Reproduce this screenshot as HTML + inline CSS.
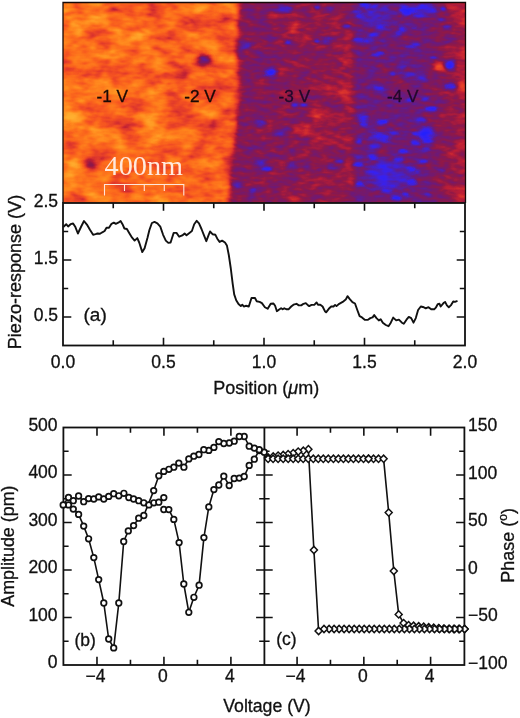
<!DOCTYPE html>
<html lang="en"><head><meta charset="utf-8"><title>Figure</title>
<style>html,body{margin:0;padding:0;background:#fff}svg{display:block}text{font-family:"Liberation Sans",Arial,Helvetica,sans-serif;fill:#111;stroke:#111;stroke-width:0.3px}.ser{font-family:"Liberation Serif","Times New Roman",serif}</style></head><body>
<svg width="520" height="718" viewBox="0 0 520 718">
<rect width="520" height="718" fill="#fff"/>
<defs>
<filter id="heat" x="0" y="0" width="100%" height="100%" filterUnits="objectBoundingBox" color-interpolation-filters="sRGB">
 <feTurbulence type="fractalNoise" baseFrequency="0.036 0.062" numOctaves="3" seed="7" result="t1"/>
 <feColorMatrix in="t1" type="matrix" values="1 0 0 0 0  1 0 0 0 0  1 0 0 0 0  0 0 0 0 1" result="n1"/>
 <feTurbulence type="fractalNoise" baseFrequency="0.09 0.22" numOctaves="2" seed="3" result="t2"/>
 <feColorMatrix in="t2" type="matrix" values="1 0 0 0 0  1 0 0 0 0  1 0 0 0 0  0 0 0 0 1" result="n2"/>
 <feComposite in="SourceGraphic" in2="n1" operator="arithmetic" k1="1.45" k2="0.275" k3="-0.45" k4="0.225" result="r1"/>
 <feComposite in="r1" in2="n2" operator="arithmetic" k1="-0.12" k2="1.06" k3="0.27" k4="-0.135" result="v"/>
 <feComponentTransfer in="v">
  <feFuncR type="table" tableValues="0.125 0.141 0.157 0.173 0.188 0.204 0.220 0.243 0.267 0.290 0.314 0.346 0.377 0.409 0.447 0.486 0.525 0.568 0.625 0.681 0.737 0.781 0.825 0.870 0.898 0.923 0.947 0.963 0.973 0.982 0.990 0.993 0.997 1.000 1.000 1.000 1.000 1.000 1.000 1.000 1.000"/>
  <feFuncG type="table" tableValues="0.125 0.127 0.128 0.129 0.131 0.132 0.133 0.131 0.129 0.127 0.125 0.118 0.111 0.103 0.100 0.098 0.096 0.096 0.103 0.110 0.118 0.150 0.181 0.213 0.243 0.273 0.302 0.333 0.365 0.397 0.427 0.457 0.486 0.516 0.545 0.575 0.604 0.625 0.647 0.669 0.690"/>
  <feFuncB type="table" tableValues="1.000 0.990 0.980 0.971 0.961 0.951 0.941 0.878 0.816 0.753 0.690 0.626 0.563 0.499 0.441 0.384 0.328 0.278 0.256 0.234 0.212 0.200 0.187 0.175 0.163 0.150 0.138 0.129 0.122 0.114 0.110 0.110 0.110 0.112 0.122 0.131 0.141 0.153 0.165 0.176 0.188"/>
  <feFuncA type="linear" slope="0" intercept="1"/>
 </feComponentTransfer>
</filter>
<filter id="bl6" x="-50%" y="-50%" width="200%" height="200%"><feGaussianBlur stdDeviation="5 3"/></filter>
<filter id="bl1" x="-50%" y="-50%" width="200%" height="200%"><feGaussianBlur stdDeviation="1.6 1.0"/></filter>
<filter id="ble" x="-10%" y="-10%" width="120%" height="120%"><feGaussianBlur stdDeviation="2.6 3"/></filter>
<filter id="bl4" x="-80%" y="-80%" width="260%" height="260%"><feGaussianBlur stdDeviation="3.2"/></filter>
<filter id="bl3" x="-50%" y="-50%" width="200%" height="200%"><feGaussianBlur stdDeviation="2.2"/></filter>
<linearGradient id="olv" x1="63" x2="245" gradientUnits="userSpaceOnUse"><stop offset="0.0000" stop-color="rgb(193,193,193)"/><stop offset="0.2033" stop-color="rgb(190,190,190)"/><stop offset="0.5330" stop-color="rgb(185,185,185)"/><stop offset="0.8462" stop-color="rgb(180,180,180)"/><stop offset="1.0000" stop-color="rgb(177,177,177)"/></linearGradient><linearGradient id="lv" x1="63" x2="465" gradientUnits="userSpaceOnUse"><stop offset="0.0000" stop-color="rgb(99,99,99)"/><stop offset="0.4801" stop-color="rgb(99,99,99)"/><stop offset="0.5398" stop-color="rgb(102,102,102)"/><stop offset="0.6144" stop-color="rgb(105,105,105)"/><stop offset="0.6891" stop-color="rgb(110,110,110)"/><stop offset="0.7139" stop-color="rgb(112,112,112)"/><stop offset="0.7338" stop-color="rgb(88,88,88)"/><stop offset="0.9005" stop-color="rgb(88,88,88)"/><stop offset="0.9428" stop-color="rgb(102,102,102)"/><stop offset="0.9751" stop-color="rgb(112,112,112)"/><stop offset="1.0000" stop-color="rgb(120,120,120)"/></linearGradient>
<clipPath id="imgclip"><rect x="63" y="2.5" width="402.5" height="200.5"/></clipPath>
</defs>
<g clip-path="url(#imgclip)"><g filter="url(#heat)">
<rect x="55" y="-5" width="420" height="215" fill="url(#lv)"/>
<path d="M40,-20 L238.5,-20 L238.5,0 L237.5,30 L236.5,60 L237.5,85 L238,105 L236.5,125 L233.5,150 L230.5,175 L228.5,200 L227,225 L40,225 Z" fill="url(#olv)" filter="url(#ble)"/>
<ellipse cx="204" cy="60" rx="7.5" ry="6.5" fill="rgb(61,61,61)" opacity="1" filter="url(#bl4)"/>
<ellipse cx="91" cy="165" rx="7" ry="4.5" fill="rgb(76,76,76)" opacity="1" filter="url(#bl4)"/>
<ellipse cx="212" cy="22" rx="14" ry="10" fill="rgb(158,158,158)" opacity="1" filter="url(#bl6)"/>
<ellipse cx="150" cy="70" rx="12" ry="7" fill="rgb(166,166,166)" opacity="1" filter="url(#bl6)"/>
<ellipse cx="175" cy="95" rx="10" ry="6" fill="rgb(166,166,166)" opacity="1" filter="url(#bl6)"/>
<ellipse cx="130" cy="122" rx="12" ry="6" fill="rgb(168,168,168)" opacity="1" filter="url(#bl6)"/>
<ellipse cx="170" cy="150" rx="12" ry="7" fill="rgb(168,168,168)" opacity="1" filter="url(#bl6)"/>
<ellipse cx="225" cy="120" rx="6" ry="10" fill="rgb(166,166,166)" opacity="1" filter="url(#bl6)"/>
<ellipse cx="100" cy="60" rx="10" ry="6" fill="rgb(171,171,171)" opacity="1" filter="url(#bl6)"/>
<ellipse cx="75" cy="120" rx="10" ry="14" fill="rgb(209,209,209)" opacity="1" filter="url(#bl6)"/>
<ellipse cx="85" cy="25" rx="14" ry="8" fill="rgb(207,207,207)" opacity="1" filter="url(#bl6)"/>
<ellipse cx="120" cy="185" rx="14" ry="6" fill="rgb(204,204,204)" opacity="1" filter="url(#bl6)"/>
<ellipse cx="140" cy="30" rx="12" ry="6" fill="rgb(204,204,204)" opacity="1" filter="url(#bl6)"/>
<ellipse cx="272.7" cy="15" rx="5" ry="3" fill="rgb(153,153,153)" opacity="1" filter="url(#bl3)"/>
<ellipse cx="294.6" cy="29" rx="5" ry="4" fill="rgb(140,140,140)" opacity="1" filter="url(#bl3)"/>
<ellipse cx="346" cy="62" rx="5" ry="5" fill="rgb(143,143,143)" opacity="1" filter="url(#bl3)"/>
<ellipse cx="301.5" cy="129" rx="9" ry="5" fill="rgb(138,138,138)" opacity="1" filter="url(#bl3)"/>
<ellipse cx="294.6" cy="199" rx="7" ry="4" fill="rgb(140,140,140)" opacity="1" filter="url(#bl3)"/>
<ellipse cx="318" cy="114" rx="7" ry="4" fill="rgb(128,128,128)" opacity="1" filter="url(#bl3)"/>
<ellipse cx="440" cy="67.5" rx="7" ry="5" fill="rgb(140,140,140)" opacity="1" filter="url(#bl3)"/>
<ellipse cx="462" cy="25" rx="3" ry="8" fill="rgb(140,140,140)" opacity="1" filter="url(#bl3)"/>
<ellipse cx="462" cy="88" rx="3" ry="8" fill="rgb(143,143,143)" opacity="1" filter="url(#bl3)"/>
<ellipse cx="397" cy="82" rx="6" ry="4" fill="rgb(122,122,122)" opacity="1" filter="url(#bl3)"/>
<ellipse cx="345" cy="95" rx="5" ry="8" fill="rgb(133,133,133)" opacity="1" filter="url(#bl3)"/>
<ellipse cx="285" cy="9" rx="9" ry="2.5" fill="rgb(36,36,36)" opacity="1" filter="url(#bl3)"/>
<ellipse cx="270.4" cy="72.7" rx="6" ry="3.5" fill="rgb(26,26,26)" opacity="1" filter="url(#bl3)"/>
<ellipse cx="327" cy="40" rx="6" ry="2.5" fill="rgb(51,51,51)" opacity="1" filter="url(#bl3)"/>
<ellipse cx="329" cy="9" rx="6" ry="2.5" fill="rgb(51,51,51)" opacity="1" filter="url(#bl3)"/>
<ellipse cx="260" cy="122" rx="6" ry="2.5" fill="rgb(46,46,46)" opacity="1" filter="url(#bl3)"/>
<ellipse cx="279.6" cy="133.5" rx="5" ry="2.5" fill="rgb(51,51,51)" opacity="1" filter="url(#bl3)"/>
<ellipse cx="260" cy="162" rx="6" ry="2.5" fill="rgb(46,46,46)" opacity="1" filter="url(#bl3)"/>
<ellipse cx="292" cy="166" rx="6" ry="2.5" fill="rgb(51,51,51)" opacity="1" filter="url(#bl3)"/>
<ellipse cx="237" cy="185" rx="4" ry="3" fill="rgb(51,51,51)" opacity="1" filter="url(#bl3)"/>
<ellipse cx="331.5" cy="167" rx="5" ry="2.5" fill="rgb(51,51,51)" opacity="1" filter="url(#bl3)"/>
<ellipse cx="246" cy="45" rx="5" ry="3" fill="rgb(51,51,51)" opacity="1" filter="url(#bl3)"/>
<ellipse cx="450" cy="65" rx="5" ry="4" fill="rgb(20,20,20)" opacity="1" filter="url(#bl3)"/>
<ellipse cx="450" cy="86" rx="6" ry="3.5" fill="rgb(26,26,26)" opacity="1" filter="url(#bl3)"/>
<ellipse cx="422" cy="77" rx="5" ry="3" fill="rgb(38,38,38)" opacity="1" filter="url(#bl3)"/>
<ellipse cx="425" cy="10" rx="12" ry="4" fill="rgb(31,31,31)" opacity="1" filter="url(#bl3)"/>
<ellipse cx="426" cy="134" rx="8" ry="6" fill="rgb(26,26,26)" opacity="1" filter="url(#bl3)"/>
<ellipse cx="381" cy="137" rx="8" ry="4" fill="rgb(31,31,31)" opacity="1" filter="url(#bl3)"/>
<ellipse cx="364" cy="118" rx="7" ry="3" fill="rgb(38,38,38)" opacity="1" filter="url(#bl3)"/>
<ellipse cx="376.5" cy="24.2" rx="5.2" ry="1.7" fill="rgb(28,28,28)" opacity="1" filter="url(#bl1)"/>
<ellipse cx="382.3" cy="10.6" rx="3.9" ry="1.9" fill="rgb(33,33,33)" opacity="1" filter="url(#bl1)"/>
<ellipse cx="361.0" cy="14.9" rx="2.5" ry="2.1" fill="rgb(33,33,33)" opacity="1" filter="url(#bl1)"/>
<ellipse cx="358.8" cy="39.4" rx="5.4" ry="1.9" fill="rgb(31,31,31)" opacity="1" filter="url(#bl1)"/>
<ellipse cx="363.8" cy="4.5" rx="3.9" ry="1.2" fill="rgb(23,23,23)" opacity="1" filter="url(#bl1)"/>
<ellipse cx="367.4" cy="5.1" rx="3.7" ry="1.6" fill="rgb(36,36,36)" opacity="1" filter="url(#bl1)"/>
<ellipse cx="379.3" cy="27.1" rx="3.8" ry="1.9" fill="rgb(28,28,28)" opacity="1" filter="url(#bl1)"/>
<ellipse cx="369.0" cy="39.9" rx="5.5" ry="2.1" fill="rgb(33,33,33)" opacity="1" filter="url(#bl1)"/>
<ellipse cx="370.6" cy="12.3" rx="3.2" ry="1.2" fill="rgb(33,33,33)" opacity="1" filter="url(#bl1)"/>
<ellipse cx="374.2" cy="34.5" rx="3.5" ry="2.2" fill="rgb(36,36,36)" opacity="1" filter="url(#bl1)"/>
<ellipse cx="357.0" cy="11.5" rx="5.2" ry="1.7" fill="rgb(38,38,38)" opacity="1" filter="url(#bl1)"/>
<ellipse cx="374.1" cy="6.6" rx="4.3" ry="2.0" fill="rgb(23,23,23)" opacity="1" filter="url(#bl1)"/>
<ellipse cx="360.7" cy="16.0" rx="5.4" ry="2.0" fill="rgb(20,20,20)" opacity="1" filter="url(#bl1)"/>
<ellipse cx="367.6" cy="7.6" rx="2.4" ry="2.1" fill="rgb(20,20,20)" opacity="1" filter="url(#bl1)"/>
<ellipse cx="381.0" cy="20.1" rx="2.8" ry="2.0" fill="rgb(20,20,20)" opacity="1" filter="url(#bl1)"/>
<ellipse cx="384.7" cy="8.2" rx="3.6" ry="1.4" fill="rgb(23,23,23)" opacity="1" filter="url(#bl1)"/>
<ellipse cx="398.7" cy="32.9" rx="3.2" ry="2.2" fill="rgb(23,23,23)" opacity="1" filter="url(#bl1)"/>
<ellipse cx="374.0" cy="34.8" rx="4.3" ry="1.2" fill="rgb(38,38,38)" opacity="1" filter="url(#bl1)"/>
<ellipse cx="410.7" cy="10.7" rx="4.7" ry="1.5" fill="rgb(28,28,28)" opacity="1" filter="url(#bl1)"/>
<ellipse cx="403.7" cy="6.3" rx="4.1" ry="1.4" fill="rgb(36,36,36)" opacity="1" filter="url(#bl1)"/>
<ellipse cx="418.6" cy="15.8" rx="5.4" ry="1.7" fill="rgb(36,36,36)" opacity="1" filter="url(#bl1)"/>
<ellipse cx="443.3" cy="8.8" rx="2.7" ry="2.2" fill="rgb(41,41,41)" opacity="1" filter="url(#bl1)"/>
<ellipse cx="412.5" cy="8.9" rx="4.6" ry="2.2" fill="rgb(28,28,28)" opacity="1" filter="url(#bl1)"/>
<ellipse cx="447.5" cy="26.9" rx="4.2" ry="1.6" fill="rgb(26,26,26)" opacity="1" filter="url(#bl1)"/>
<ellipse cx="401.9" cy="29.0" rx="3.0" ry="1.9" fill="rgb(28,28,28)" opacity="1" filter="url(#bl1)"/>
<ellipse cx="441.2" cy="19.5" rx="3.2" ry="1.3" fill="rgb(38,38,38)" opacity="1" filter="url(#bl1)"/>
<ellipse cx="403.4" cy="9.9" rx="4.0" ry="2.1" fill="rgb(36,36,36)" opacity="1" filter="url(#bl1)"/>
<ellipse cx="414.0" cy="27.9" rx="2.9" ry="1.1" fill="rgb(28,28,28)" opacity="1" filter="url(#bl1)"/>
<ellipse cx="422.3" cy="5.6" rx="2.8" ry="1.5" fill="rgb(36,36,36)" opacity="1" filter="url(#bl1)"/>
<ellipse cx="406.6" cy="13.4" rx="5.1" ry="2.3" fill="rgb(36,36,36)" opacity="1" filter="url(#bl1)"/>
<ellipse cx="399.2" cy="178.1" rx="2.7" ry="1.1" fill="rgb(8,8,8)" opacity="1" filter="url(#bl1)"/>
<ellipse cx="412.5" cy="183.6" rx="5.4" ry="1.1" fill="rgb(20,20,20)" opacity="1" filter="url(#bl1)"/>
<ellipse cx="386.4" cy="185.1" rx="3.3" ry="2.3" fill="rgb(10,10,10)" opacity="1" filter="url(#bl1)"/>
<ellipse cx="390.3" cy="185.4" rx="5.2" ry="2.0" fill="rgb(23,23,23)" opacity="1" filter="url(#bl1)"/>
<ellipse cx="405.4" cy="193.9" rx="3.4" ry="1.9" fill="rgb(26,26,26)" opacity="1" filter="url(#bl1)"/>
<ellipse cx="410.1" cy="170.0" rx="4.8" ry="2.1" fill="rgb(20,20,20)" opacity="1" filter="url(#bl1)"/>
<ellipse cx="395.1" cy="168.4" rx="4.1" ry="1.8" fill="rgb(10,10,10)" opacity="1" filter="url(#bl1)"/>
<ellipse cx="396.0" cy="197.7" rx="5.1" ry="2.0" fill="rgb(15,15,15)" opacity="1" filter="url(#bl1)"/>
<ellipse cx="401.8" cy="177.9" rx="3.7" ry="2.1" fill="rgb(10,10,10)" opacity="1" filter="url(#bl1)"/>
<ellipse cx="402.8" cy="151.4" rx="4.2" ry="1.7" fill="rgb(13,13,13)" opacity="1" filter="url(#bl1)"/>
<ellipse cx="399.6" cy="173.9" rx="4.2" ry="2.2" fill="rgb(13,13,13)" opacity="1" filter="url(#bl1)"/>
<ellipse cx="357.7" cy="164.4" rx="4.4" ry="1.3" fill="rgb(10,10,10)" opacity="1" filter="url(#bl1)"/>
<ellipse cx="412.2" cy="181.7" rx="3.7" ry="2.2" fill="rgb(15,15,15)" opacity="1" filter="url(#bl1)"/>
<ellipse cx="397.6" cy="159.5" rx="3.6" ry="2.1" fill="rgb(26,26,26)" opacity="1" filter="url(#bl1)"/>
<ellipse cx="410.7" cy="168.5" rx="4.1" ry="1.5" fill="rgb(10,10,10)" opacity="1" filter="url(#bl1)"/>
<ellipse cx="387.3" cy="190.2" rx="5.0" ry="2.0" fill="rgb(28,28,28)" opacity="1" filter="url(#bl1)"/>
<ellipse cx="373.9" cy="158.1" rx="3.7" ry="1.4" fill="rgb(13,13,13)" opacity="1" filter="url(#bl1)"/>
<ellipse cx="382.3" cy="180.0" rx="3.8" ry="1.5" fill="rgb(26,26,26)" opacity="1" filter="url(#bl1)"/>
<ellipse cx="416.9" cy="171.7" rx="2.4" ry="1.1" fill="rgb(26,26,26)" opacity="1" filter="url(#bl1)"/>
<ellipse cx="359.5" cy="184.0" rx="4.1" ry="1.5" fill="rgb(23,23,23)" opacity="1" filter="url(#bl1)"/>
<ellipse cx="358.2" cy="156.5" rx="3.7" ry="1.1" fill="rgb(26,26,26)" opacity="1" filter="url(#bl1)"/>
<ellipse cx="371.5" cy="156.8" rx="2.4" ry="1.9" fill="rgb(18,18,18)" opacity="1" filter="url(#bl1)"/>
<ellipse cx="395.4" cy="181.4" rx="4.9" ry="2.3" fill="rgb(20,20,20)" opacity="1" filter="url(#bl1)"/>
<ellipse cx="369.2" cy="172.8" rx="2.8" ry="1.1" fill="rgb(18,18,18)" opacity="1" filter="url(#bl1)"/>
<ellipse cx="400.6" cy="158.6" rx="3.1" ry="1.5" fill="rgb(23,23,23)" opacity="1" filter="url(#bl1)"/>
<ellipse cx="388.7" cy="179.5" rx="4.7" ry="1.6" fill="rgb(23,23,23)" opacity="1" filter="url(#bl1)"/>
<ellipse cx="430.4" cy="108.9" rx="5.3" ry="2.0" fill="rgb(26,26,26)" opacity="1" filter="url(#bl1)"/>
<ellipse cx="393.7" cy="133.1" rx="5.2" ry="1.6" fill="rgb(36,36,36)" opacity="1" filter="url(#bl1)"/>
<ellipse cx="428.2" cy="140.9" rx="5.3" ry="1.7" fill="rgb(36,36,36)" opacity="1" filter="url(#bl1)"/>
<ellipse cx="373.6" cy="137.5" rx="4.9" ry="1.9" fill="rgb(38,38,38)" opacity="1" filter="url(#bl1)"/>
<ellipse cx="374.3" cy="145.5" rx="5.4" ry="2.3" fill="rgb(33,33,33)" opacity="1" filter="url(#bl1)"/>
<ellipse cx="421.1" cy="119.4" rx="5.2" ry="2.1" fill="rgb(31,31,31)" opacity="1" filter="url(#bl1)"/>
<ellipse cx="363.7" cy="124.8" rx="4.0" ry="2.0" fill="rgb(33,33,33)" opacity="1" filter="url(#bl1)"/>
<ellipse cx="359.3" cy="141.4" rx="2.4" ry="2.1" fill="rgb(26,26,26)" opacity="1" filter="url(#bl1)"/>
<ellipse cx="384.1" cy="140.5" rx="2.7" ry="1.3" fill="rgb(33,33,33)" opacity="1" filter="url(#bl1)"/>
<ellipse cx="415.6" cy="142.8" rx="4.5" ry="2.2" fill="rgb(33,33,33)" opacity="1" filter="url(#bl1)"/>
<ellipse cx="433.9" cy="108.9" rx="2.9" ry="1.7" fill="rgb(28,28,28)" opacity="1" filter="url(#bl1)"/>
<ellipse cx="416.0" cy="133.7" rx="3.9" ry="2.1" fill="rgb(33,33,33)" opacity="1" filter="url(#bl1)"/>
<ellipse cx="382.2" cy="122.2" rx="5.0" ry="2.2" fill="rgb(28,28,28)" opacity="1" filter="url(#bl1)"/>
<ellipse cx="425.9" cy="148.6" rx="3.9" ry="1.8" fill="rgb(28,28,28)" opacity="1" filter="url(#bl1)"/>
<ellipse cx="402.9" cy="72.7" rx="4.2" ry="1.1" fill="rgb(48,48,48)" opacity="1" filter="url(#bl1)"/>
<ellipse cx="401.3" cy="66.0" rx="4.8" ry="1.8" fill="rgb(38,38,38)" opacity="1" filter="url(#bl1)"/>
<ellipse cx="415.3" cy="44.3" rx="4.0" ry="1.6" fill="rgb(48,48,48)" opacity="1" filter="url(#bl1)"/>
<ellipse cx="433.9" cy="57.5" rx="3.8" ry="1.3" fill="rgb(36,36,36)" opacity="1" filter="url(#bl1)"/>
<ellipse cx="425.3" cy="98.5" rx="3.8" ry="1.5" fill="rgb(33,33,33)" opacity="1" filter="url(#bl1)"/>
<ellipse cx="409.4" cy="100.1" rx="2.6" ry="2.0" fill="rgb(28,28,28)" opacity="1" filter="url(#bl1)"/>
<ellipse cx="375.5" cy="54.8" rx="4.5" ry="1.5" fill="rgb(36,36,36)" opacity="1" filter="url(#bl1)"/>
<ellipse cx="409.6" cy="46.8" rx="4.6" ry="1.2" fill="rgb(38,38,38)" opacity="1" filter="url(#bl1)"/>
<ellipse cx="380.0" cy="52.9" rx="4.0" ry="1.6" fill="rgb(36,36,36)" opacity="1" filter="url(#bl1)"/>
<ellipse cx="393.1" cy="74.4" rx="2.7" ry="1.3" fill="rgb(41,41,41)" opacity="1" filter="url(#bl1)"/>
<ellipse cx="411.1" cy="74.4" rx="5.0" ry="1.8" fill="rgb(46,46,46)" opacity="1" filter="url(#bl1)"/>
<ellipse cx="378.6" cy="88.2" rx="4.9" ry="2.2" fill="rgb(36,36,36)" opacity="1" filter="url(#bl1)"/>
<ellipse cx="427.9" cy="194.3" rx="2.9" ry="2.3" fill="rgb(51,51,51)" opacity="1" filter="url(#bl1)"/>
<ellipse cx="423.3" cy="161.5" rx="4.6" ry="1.4" fill="rgb(36,36,36)" opacity="1" filter="url(#bl1)"/>
<ellipse cx="440.8" cy="170.2" rx="4.8" ry="1.3" fill="rgb(41,41,41)" opacity="1" filter="url(#bl1)"/>
<ellipse cx="317.3" cy="7.5" rx="2.9" ry="1.9" fill="rgb(54,54,54)" opacity="1" filter="url(#bl1)"/>
<ellipse cx="346.7" cy="26.6" rx="3.9" ry="2.0" fill="rgb(46,46,46)" opacity="1" filter="url(#bl1)"/>
<ellipse cx="317.3" cy="41.0" rx="2.4" ry="1.2" fill="rgb(36,36,36)" opacity="1" filter="url(#bl1)"/>
<ellipse cx="303.4" cy="104.9" rx="4.1" ry="1.3" fill="rgb(38,38,38)" opacity="1" filter="url(#bl1)"/>
<ellipse cx="267.2" cy="168.7" rx="5.5" ry="2.2" fill="rgb(38,38,38)" opacity="1" filter="url(#bl1)"/>
<ellipse cx="252.4" cy="190.5" rx="3.7" ry="2.0" fill="rgb(43,43,43)" opacity="1" filter="url(#bl1)"/>
<ellipse cx="294.6" cy="105.0" rx="3.6" ry="1.8" fill="rgb(36,36,36)" opacity="1" filter="url(#bl1)"/>
<ellipse cx="318.9" cy="169.5" rx="2.8" ry="1.6" fill="rgb(51,51,51)" opacity="1" filter="url(#bl1)"/>
<ellipse cx="288.2" cy="42.2" rx="2.7" ry="1.7" fill="rgb(36,36,36)" opacity="1" filter="url(#bl1)"/>
<ellipse cx="338.9" cy="161.1" rx="4.5" ry="2.1" fill="rgb(48,48,48)" opacity="1" filter="url(#bl1)"/>
<ellipse cx="378" cy="18" rx="16" ry="10" fill="rgb(64,64,64)" opacity="1" filter="url(#bl6)"/>
<ellipse cx="388" cy="175" rx="22" ry="13" fill="rgb(51,51,51)" opacity="1" filter="url(#bl6)"/>
</g></g>
<path d="M63,203 V2.5 H465.5 V203" fill="none" stroke="#140808" stroke-width="1.3"/>
<text x="96.5" y="102" font-size="17.2" fill="#1a0a06" style="fill:#1a0a06;stroke:#1a0a06">-1 V</text>
<text x="184.3" y="102" font-size="17.2" fill="#1a0a06" style="fill:#1a0a06;stroke:#1a0a06">-2 V</text>
<text x="278.6" y="102" font-size="17.2" fill="#22082a" style="fill:#22082a;stroke:#22082a">-3 V</text>
<text x="387" y="102" font-size="17.2" fill="#22082a" style="fill:#22082a;stroke:#22082a">-4 V</text>
<text class="ser" x="104.5" y="175" font-size="27.5" textLength="78.5" lengthAdjust="spacingAndGlyphs" style="fill:#ffeade;stroke:none">400nm</text>
<path d="M104.5,195.5 V184.5 H183.8 V195.5 M124.5,184.5 V191 M144.3,184.5 V191 M164.3,184.5 V191" fill="none" stroke="#ffe6da" stroke-width="1.1"/>
<rect x="63" y="203" width="402" height="142.5" fill="none" stroke="#111" stroke-width="1.8"/>
<path d="M113.25,203 v5.2 M113.25,345.5 v-5.2 M163.50,203 v7.8 M163.50,345.5 v-7.8 M213.75,203 v5.2 M213.75,345.5 v-5.2 M264.00,203 v7.8 M264.00,345.5 v-7.8 M314.25,203 v5.2 M314.25,345.5 v-5.2 M364.50,203 v7.8 M364.50,345.5 v-7.8 M414.75,203 v5.2 M414.75,345.5 v-5.2 M63,231.50 h5.2 M465,231.50 h-5.2 M63,260.00 h8.3 M465,260.00 h-8.3 M63,288.50 h5.2 M465,288.50 h-5.2 M63,317.00 h8.3 M465,317.00 h-8.3" fill="none" stroke="#111" stroke-width="1.6"/>
<polyline points="63.8,226.5 66.2,224.2 68.1,226.5 70.6,224.2 73.1,223.5 75.4,227.1 77.9,233.5 81.2,226.5 84.0,221.0 86.9,224.6 89.8,229.6 93.1,234.8 95.6,234.2 97.5,233.5 100.0,233.8 102.3,232.3 104.6,231.0 106.5,227.7 109.0,227.7 111.5,223.8 113.8,222.7 115.8,223.8 118.3,222.7 120.6,221.0 122.5,224.2 124.4,228.5 126.9,229.0 129.2,232.9 132.1,237.7 134.6,240.6 137.3,238.1 139.2,242.5 142.3,252.1 144.6,248.3 147.5,237.7 149.4,230.0 151.9,223.0 154.5,221.9 157.4,223.3 160.3,226.6 163.1,234.8 165.8,240.6 168.3,242.9 170.6,242.5 172.1,237.7 173.7,232.9 176.5,232.9 179.2,236.7 182.3,235.4 184.6,233.5 186.5,235.2 189.4,232.9 191.9,231.0 194.2,224.2 196.7,220.8 199.0,223.3 201.5,229.0 203.8,234.8 206.3,241.2 208.3,235.8 210.0,231.5 212.5,234.2 215.4,234.8 217.3,238.7 219.6,241.9 222.1,240.6 225.0,242.5 226.9,245.4 228.8,255.0 230.8,268.5 232.7,283.8 234.2,294.4 236.2,300.2 238.5,304.0 240.8,306.0 242.3,304.7 243.8,306.5 245.8,305.8 248.8,306.5 251.5,298.0 255.0,298.0 256.6,301.2 259.6,301.9 261.9,303.1 264.9,307.2 267.7,308.8 270.7,303.8 273.5,303.5 275.1,305.8 276.9,311.2 279.2,309.5 281.1,308.2 282.7,309.3 284.3,308.2 286.2,309.3 288.5,309.3 291.2,306.5 293.5,304.7 296.5,303.8 298.8,305.4 301.2,305.4 303.5,303.8 305.8,303.1 308.1,305.4 309.2,306.1 311.5,304.9 314.3,304.9 316.6,302.4 318.0,304.7 320.3,304.7 322.6,306.5 324.9,311.2 326.1,312.3 328.8,308.8 331.2,306.5 333.5,306.5 335.1,304.9 336.5,306.1 339.2,303.8 342.7,301.9 345.7,299.6 347.5,296.2 349.6,298.9 352.4,302.1 355.0,303.5 357.3,310.0 359.6,316.2 362.0,317.4 365.0,319.9 368.0,319.7 370.3,318.1 372.6,317.4 374.2,315.1 376.5,318.1 378.8,320.4 380.7,319.2 382.8,322.7 385.8,325.0 388.5,326.2 390.8,322.7 393.2,317.6 396.2,320.4 398.9,319.7 401.9,322.7 403.8,323.8 406.5,319.7 408.8,316.9 411.2,318.1 413.5,322.7 415.8,318.1 418.1,310.0 420.8,306.5 423.8,307.2 425.7,308.4 428.5,307.2 431.2,309.3 434.2,309.3 435.8,307.7 437.7,304.2 439.5,303.8 440.7,306.5 443.5,303.1 445.1,301.9 446.9,305.4 448.8,307.2 450.8,305.4 453.2,301.5 455.0,301.9 456.8,301.2" fill="none" stroke="#111" stroke-width="1.9" stroke-linejoin="round" stroke-linecap="round"/>
<text x="58" y="206.8" font-size="17.5" text-anchor="end">2.5</text>
<text x="58" y="263.8" font-size="17.5" text-anchor="end">1.5</text>
<text x="58" y="320.8" font-size="17.5" text-anchor="end">0.5</text>
<text x="63.0" y="368.4" font-size="17.5" text-anchor="middle">0.0</text>
<text x="163.5" y="368.4" font-size="17.5" text-anchor="middle">0.5</text>
<text x="264.0" y="368.4" font-size="17.5" text-anchor="middle">1.0</text>
<text x="364.5" y="368.4" font-size="17.5" text-anchor="middle">1.5</text>
<text x="465.0" y="368.4" font-size="17.5" text-anchor="middle">2.0</text>
<text x="83.5" y="321" font-size="19">(a)</text>
<text x="266.2" y="393.8" font-size="18" text-anchor="middle">Position (<tspan font-style="italic">μ</tspan>m)</text>
<text transform="translate(21.3,272) rotate(-90)" font-size="18.05" text-anchor="middle">Piezo-response (V)</text>
<rect x="63.4" y="427.5" width="401.0" height="237.5" fill="none" stroke="#111" stroke-width="1.8"/>
<path d="M264.4,427.5 V665" stroke="#111" stroke-width="1.8"/>
<path d="M63.4,451.25 h5.2 M464.4,451.25 h-5.2 M259.2,451.25 h10.4 M63.4,475.0 h8.3 M464.4,475.0 h-8.3 M256.09999999999997,475.0 h16.6 M63.4,498.75 h5.2 M464.4,498.75 h-5.2 M259.2,498.75 h10.4 M63.4,522.5 h8.3 M464.4,522.5 h-8.3 M256.09999999999997,522.5 h16.6 M63.4,546.25 h5.2 M464.4,546.25 h-5.2 M259.2,546.25 h10.4 M63.4,570.0 h8.3 M464.4,570.0 h-8.3 M256.09999999999997,570.0 h16.6 M63.4,593.75 h5.2 M464.4,593.75 h-5.2 M259.2,593.75 h10.4 M63.4,617.5 h8.3 M464.4,617.5 h-8.3 M256.09999999999997,617.5 h16.6 M63.4,641.25 h5.2 M464.4,641.25 h-5.2 M259.2,641.25 h10.4 M96.98,427.5 v8.2 M96.98,665 v-8.2 M297.08,427.5 v8.2 M297.08,665 v-8.2 M130.46,427.5 v5.2 M130.46,665 v-5.2 M330.46,427.5 v5.2 M330.46,665 v-5.2 M163.94,427.5 v8.2 M163.94,665 v-8.2 M363.84,427.5 v8.2 M363.84,665 v-8.2 M197.42,427.5 v5.2 M197.42,665 v-5.2 M397.22,427.5 v5.2 M397.22,665 v-5.2 M230.90,427.5 v8.2 M230.90,665 v-8.2 M430.60,427.5 v8.2 M430.60,665 v-8.2" fill="none" stroke="#111" stroke-width="1.6"/>
<text x="57.6" y="430.9" font-size="17.5" text-anchor="end">500</text>
<text x="57.6" y="478.4" font-size="17.5" text-anchor="end">400</text>
<text x="57.6" y="525.9" font-size="17.5" text-anchor="end">300</text>
<text x="57.6" y="573.4" font-size="17.5" text-anchor="end">200</text>
<text x="57.6" y="620.9" font-size="17.5" text-anchor="end">100</text>
<text x="57.6" y="668.4" font-size="17.5" text-anchor="end">0</text>
<text x="468" y="431.4" font-size="17.5">150</text>
<text x="468" y="478.9" font-size="17.5">100</text>
<text x="468" y="526.4" font-size="17.5">50</text>
<text x="468" y="573.9" font-size="17.5">0</text>
<text x="468" y="621.4" font-size="17.5">−50</text>
<text x="468" y="668.9" font-size="17.5">−100</text>
<text x="95.4" y="682.2" font-size="17.5" text-anchor="middle">−4</text>
<text x="162.9" y="682.2" font-size="17.5" text-anchor="middle">0</text>
<text x="229.9" y="682.2" font-size="17.5" text-anchor="middle">4</text>
<text x="295.5" y="682.2" font-size="17.5" text-anchor="middle">−4</text>
<text x="362.8" y="682.2" font-size="17.5" text-anchor="middle">0</text>
<text x="429.6" y="682.2" font-size="17.5" text-anchor="middle">4</text>
<text x="74.5" y="646" font-size="17.5">(b)</text>
<text x="276.3" y="645.2" font-size="17.5">(c)</text>
<text x="267" y="712" font-size="17.7" text-anchor="middle">Voltage (V)</text>
<text transform="translate(14.4,546.1) rotate(-90)" font-size="17.9" text-anchor="middle">Amplitude (pm)</text>
<text transform="translate(514.4,582.8) rotate(-90)" font-size="18">Phase (<tspan font-size="12" dy="-7.6">o</tspan><tspan dy="7.6">)</tspan></text>
<polyline points="163.8,509.5 168.8,509.6 173.8,519.4 179.1,542.6 183.8,584.0 188.8,612.3 193.9,597.3 199.1,585.2 203.9,537.6 208.8,506.9 213.9,489.6 218.8,485.0 223.8,476.2 229.2,485.5 234.2,478.5 239.3,478.1 244.2,476.5 249.2,465.4 254.3,459.2 259.2,450.5 264.2,452.2 259.2,449.7 254.3,448.1 249.2,446.2 244.2,436.5 239.3,436.5 234.2,441.2 229.2,443.0 223.8,443.5 218.8,441.6 213.9,447.4 208.8,450.4 203.8,449.7 198.9,454.5 193.8,456.2 188.8,458.9 183.9,467.2 178.8,463.1 173.8,467.2 168.9,469.3 163.8,471.4 158.8,475.8 153.7,490.6 143.8,515.5 138.7,518.2 133.6,525.6 128.3,530.9 123.7,541.5 118.8,603.0 113.7,647.9 108.7,639.0 103.8,603.0 98.7,579.6 93.8,557.6 88.6,538.8 83.7,526.1 78.6,514.4 73.3,509.1 68.5,504.9 63.2,504.9 68.5,497.5 73.3,500.7 78.6,496.0 83.7,501.7 88.6,498.6 93.8,499.0 98.7,496.9 103.8,499.0 108.7,496.4 113.7,493.7 118.8,495.8 123.9,493.3 128.8,497.5 133.6,499.0 138.7,500.7 143.8,502.8 148.9,504.9 153.9,502.8 158.8,502.2 163.8,497.6" fill="none" stroke="#111" stroke-width="1.6" stroke-linejoin="round"/>
<g fill="#fff" stroke="#111" stroke-width="1.7">
<circle cx="163.8" cy="509.5" r="2.8"/>
<circle cx="168.8" cy="509.6" r="2.8"/>
<circle cx="173.8" cy="519.4" r="2.8"/>
<circle cx="179.1" cy="542.6" r="2.8"/>
<circle cx="183.8" cy="584.0" r="2.8"/>
<circle cx="188.8" cy="612.3" r="2.8"/>
<circle cx="193.9" cy="597.3" r="2.8"/>
<circle cx="199.1" cy="585.2" r="2.8"/>
<circle cx="203.9" cy="537.6" r="2.8"/>
<circle cx="208.8" cy="506.9" r="2.8"/>
<circle cx="213.9" cy="489.6" r="2.8"/>
<circle cx="218.8" cy="485.0" r="2.8"/>
<circle cx="223.8" cy="476.2" r="2.8"/>
<circle cx="229.2" cy="485.5" r="2.8"/>
<circle cx="234.2" cy="478.5" r="2.8"/>
<circle cx="239.3" cy="478.1" r="2.8"/>
<circle cx="244.2" cy="476.5" r="2.8"/>
<circle cx="249.2" cy="465.4" r="2.8"/>
<circle cx="254.3" cy="459.2" r="2.8"/>
<circle cx="259.2" cy="450.5" r="2.8"/>
<circle cx="264.2" cy="452.2" r="2.8"/>
<circle cx="259.2" cy="449.7" r="2.8"/>
<circle cx="254.3" cy="448.1" r="2.8"/>
<circle cx="249.2" cy="446.2" r="2.8"/>
<circle cx="244.2" cy="436.5" r="2.8"/>
<circle cx="239.3" cy="436.5" r="2.8"/>
<circle cx="234.2" cy="441.2" r="2.8"/>
<circle cx="229.2" cy="443.0" r="2.8"/>
<circle cx="223.8" cy="443.5" r="2.8"/>
<circle cx="218.8" cy="441.6" r="2.8"/>
<circle cx="213.9" cy="447.4" r="2.8"/>
<circle cx="208.8" cy="450.4" r="2.8"/>
<circle cx="203.8" cy="449.7" r="2.8"/>
<circle cx="198.9" cy="454.5" r="2.8"/>
<circle cx="193.8" cy="456.2" r="2.8"/>
<circle cx="188.8" cy="458.9" r="2.8"/>
<circle cx="183.9" cy="467.2" r="2.8"/>
<circle cx="178.8" cy="463.1" r="2.8"/>
<circle cx="173.8" cy="467.2" r="2.8"/>
<circle cx="168.9" cy="469.3" r="2.8"/>
<circle cx="163.8" cy="471.4" r="2.8"/>
<circle cx="158.8" cy="475.8" r="2.8"/>
<circle cx="153.7" cy="490.6" r="2.8"/>
<circle cx="143.8" cy="515.5" r="2.8"/>
<circle cx="138.7" cy="518.2" r="2.8"/>
<circle cx="133.6" cy="525.6" r="2.8"/>
<circle cx="128.3" cy="530.9" r="2.8"/>
<circle cx="123.7" cy="541.5" r="2.8"/>
<circle cx="118.8" cy="603.0" r="2.8"/>
<circle cx="113.7" cy="647.9" r="2.8"/>
<circle cx="108.7" cy="639.0" r="2.8"/>
<circle cx="103.8" cy="603.0" r="2.8"/>
<circle cx="98.7" cy="579.6" r="2.8"/>
<circle cx="93.8" cy="557.6" r="2.8"/>
<circle cx="88.6" cy="538.8" r="2.8"/>
<circle cx="83.7" cy="526.1" r="2.8"/>
<circle cx="78.6" cy="514.4" r="2.8"/>
<circle cx="73.3" cy="509.1" r="2.8"/>
<circle cx="68.5" cy="504.9" r="2.8"/>
<circle cx="63.2" cy="504.9" r="2.8"/>
<circle cx="68.5" cy="497.5" r="2.8"/>
<circle cx="73.3" cy="500.7" r="2.8"/>
<circle cx="78.6" cy="496.0" r="2.8"/>
<circle cx="83.7" cy="501.7" r="2.8"/>
<circle cx="88.6" cy="498.6" r="2.8"/>
<circle cx="93.8" cy="499.0" r="2.8"/>
<circle cx="98.7" cy="496.9" r="2.8"/>
<circle cx="103.8" cy="499.0" r="2.8"/>
<circle cx="108.7" cy="496.4" r="2.8"/>
<circle cx="113.7" cy="493.7" r="2.8"/>
<circle cx="118.8" cy="495.8" r="2.8"/>
<circle cx="123.9" cy="493.3" r="2.8"/>
<circle cx="128.8" cy="497.5" r="2.8"/>
<circle cx="133.6" cy="499.0" r="2.8"/>
<circle cx="138.7" cy="500.7" r="2.8"/>
<circle cx="143.8" cy="502.8" r="2.8"/>
<circle cx="148.9" cy="504.9" r="2.8"/>
<circle cx="153.9" cy="502.8" r="2.8"/>
<circle cx="158.8" cy="502.2" r="2.8"/>
<circle cx="163.8" cy="497.6" r="2.8"/>
</g>
<polyline points="368.5,458.8 373.5,458.8 378.5,458.8 383.6,458.8 388.7,512.6 393.8,571.0 398.7,614.4 403.6,623.1 408.6,625.2 413.6,625.8 418.7,626.3 423.7,626.8 428.7,627.3 433.7,627.8 438.7,628.2 443.8,628.6 448.8,628.9 453.8,629.0 458.8,629.0 464.6,629.0 459.6,629.0 454.6,629.0 449.5,629.0 444.5,629.0 439.5,629.0 434.5,629.0 429.5,629.0 424.4,629.0 419.4,629.0 414.4,629.0 409.4,629.0 404.4,629.0 399.3,629.0 394.3,629.0 389.3,629.0 384.3,629.0 379.3,629.0 374.2,629.0 369.2,629.0 364.2,629.0 359.2,629.0 354.2,629.0 349.1,629.0 344.1,629.0 339.1,629.0 334.1,629.0 329.1,629.0 324.0,629.0 318.6,631.0 313.9,550.0 308.4,449.2 303.3,450.8 298.2,451.6 293.2,453.2 288.1,454.2 283.2,455.0 278.1,455.6 273.2,456.4 268.1,457.5" fill="none" stroke="#111" stroke-width="1.6" stroke-linejoin="round"/>
<g fill="#fff" stroke="#111" stroke-width="1.5" stroke-linejoin="miter">
<path d="M365.0,458.8 L368.5,455.2 L372.0,458.8 L368.5,462.4 Z"/>
<path d="M370.0,458.8 L373.5,455.2 L377.0,458.8 L373.5,462.4 Z"/>
<path d="M375.0,458.8 L378.5,455.2 L382.0,458.8 L378.5,462.4 Z"/>
<path d="M380.1,458.8 L383.6,455.2 L387.1,458.8 L383.6,462.4 Z"/>
<path d="M385.2,512.6 L388.7,509.0 L392.2,512.6 L388.7,516.2 Z"/>
<path d="M390.3,571.0 L393.8,567.4 L397.3,571.0 L393.8,574.6 Z"/>
<path d="M395.2,614.4 L398.7,610.8 L402.2,614.4 L398.7,618.0 Z"/>
<path d="M400.1,623.1 L403.6,619.5 L407.1,623.1 L403.6,626.7 Z"/>
<path d="M405.1,625.2 L408.6,621.6 L412.1,625.2 L408.6,628.8 Z"/>
<path d="M410.1,625.8 L413.6,622.2 L417.1,625.8 L413.6,629.4 Z"/>
<path d="M415.2,626.3 L418.7,622.7 L422.2,626.3 L418.7,629.9 Z"/>
<path d="M420.2,626.8 L423.7,623.2 L427.2,626.8 L423.7,630.4 Z"/>
<path d="M425.2,627.3 L428.7,623.7 L432.2,627.3 L428.7,630.9 Z"/>
<path d="M430.2,627.8 L433.7,624.2 L437.2,627.8 L433.7,631.4 Z"/>
<path d="M435.2,628.2 L438.7,624.6 L442.2,628.2 L438.7,631.8 Z"/>
<path d="M440.3,628.6 L443.8,625.0 L447.3,628.6 L443.8,632.2 Z"/>
<path d="M445.3,628.9 L448.8,625.3 L452.3,628.9 L448.8,632.5 Z"/>
<path d="M450.3,629.0 L453.8,625.4 L457.3,629.0 L453.8,632.6 Z"/>
<path d="M455.3,629.0 L458.8,625.4 L462.3,629.0 L458.8,632.6 Z"/>
<path d="M461.1,629.0 L464.6,625.4 L468.1,629.0 L464.6,632.6 Z"/>
<path d="M461.1,629.0 L464.6,625.4 L468.1,629.0 L464.6,632.6 Z"/>
<path d="M456.1,629.0 L459.6,625.4 L463.1,629.0 L459.6,632.6 Z"/>
<path d="M451.1,629.0 L454.6,625.4 L458.1,629.0 L454.6,632.6 Z"/>
<path d="M446.0,629.0 L449.5,625.4 L453.0,629.0 L449.5,632.6 Z"/>
<path d="M441.0,629.0 L444.5,625.4 L448.0,629.0 L444.5,632.6 Z"/>
<path d="M436.0,629.0 L439.5,625.4 L443.0,629.0 L439.5,632.6 Z"/>
<path d="M431.0,629.0 L434.5,625.4 L438.0,629.0 L434.5,632.6 Z"/>
<path d="M426.0,629.0 L429.5,625.4 L433.0,629.0 L429.5,632.6 Z"/>
<path d="M420.9,629.0 L424.4,625.4 L427.9,629.0 L424.4,632.6 Z"/>
<path d="M415.9,629.0 L419.4,625.4 L422.9,629.0 L419.4,632.6 Z"/>
<path d="M410.9,629.0 L414.4,625.4 L417.9,629.0 L414.4,632.6 Z"/>
<path d="M405.9,629.0 L409.4,625.4 L412.9,629.0 L409.4,632.6 Z"/>
<path d="M400.9,629.0 L404.4,625.4 L407.9,629.0 L404.4,632.6 Z"/>
<path d="M395.8,629.0 L399.3,625.4 L402.8,629.0 L399.3,632.6 Z"/>
<path d="M390.8,629.0 L394.3,625.4 L397.8,629.0 L394.3,632.6 Z"/>
<path d="M385.8,629.0 L389.3,625.4 L392.8,629.0 L389.3,632.6 Z"/>
<path d="M380.8,629.0 L384.3,625.4 L387.8,629.0 L384.3,632.6 Z"/>
<path d="M375.8,629.0 L379.3,625.4 L382.8,629.0 L379.3,632.6 Z"/>
<path d="M370.7,629.0 L374.2,625.4 L377.7,629.0 L374.2,632.6 Z"/>
<path d="M365.7,629.0 L369.2,625.4 L372.7,629.0 L369.2,632.6 Z"/>
<path d="M360.7,629.0 L364.2,625.4 L367.7,629.0 L364.2,632.6 Z"/>
<path d="M355.7,629.0 L359.2,625.4 L362.7,629.0 L359.2,632.6 Z"/>
<path d="M350.7,629.0 L354.2,625.4 L357.7,629.0 L354.2,632.6 Z"/>
<path d="M345.6,629.0 L349.1,625.4 L352.6,629.0 L349.1,632.6 Z"/>
<path d="M340.6,629.0 L344.1,625.4 L347.6,629.0 L344.1,632.6 Z"/>
<path d="M335.6,629.0 L339.1,625.4 L342.6,629.0 L339.1,632.6 Z"/>
<path d="M330.6,629.0 L334.1,625.4 L337.6,629.0 L334.1,632.6 Z"/>
<path d="M325.6,629.0 L329.1,625.4 L332.6,629.0 L329.1,632.6 Z"/>
<path d="M320.5,629.0 L324.0,625.4 L327.5,629.0 L324.0,632.6 Z"/>
<path d="M315.1,631.0 L318.6,627.4 L322.1,631.0 L318.6,634.6 Z"/>
<path d="M310.4,550.0 L313.9,546.4 L317.4,550.0 L313.9,553.6 Z"/>
<path d="M304.9,449.2 L308.4,445.6 L311.9,449.2 L308.4,452.8 Z"/>
<path d="M299.8,450.8 L303.3,447.2 L306.8,450.8 L303.3,454.4 Z"/>
<path d="M294.7,451.6 L298.2,448.0 L301.7,451.6 L298.2,455.2 Z"/>
<path d="M289.7,453.2 L293.2,449.6 L296.7,453.2 L293.2,456.8 Z"/>
<path d="M284.6,454.2 L288.1,450.6 L291.6,454.2 L288.1,457.8 Z"/>
<path d="M279.7,455.0 L283.2,451.4 L286.7,455.0 L283.2,458.6 Z"/>
<path d="M274.6,455.6 L278.1,452.0 L281.6,455.6 L278.1,459.2 Z"/>
<path d="M269.7,456.4 L273.2,452.8 L276.7,456.4 L273.2,460.0 Z"/>
<path d="M264.6,457.5 L268.1,453.9 L271.6,457.5 L268.1,461.1 Z"/>
<path d="M264.6,458.8 L268.1,455.2 L271.6,458.8 L268.1,462.4 Z"/>
<path d="M269.6,458.8 L273.1,455.2 L276.6,458.8 L273.1,462.4 Z"/>
<path d="M274.6,458.8 L278.1,455.2 L281.6,458.8 L278.1,462.4 Z"/>
<path d="M279.7,458.8 L283.2,455.2 L286.7,458.8 L283.2,462.4 Z"/>
<path d="M284.7,458.8 L288.2,455.2 L291.7,458.8 L288.2,462.4 Z"/>
<path d="M289.7,458.8 L293.2,455.2 L296.7,458.8 L293.2,462.4 Z"/>
<path d="M294.7,458.8 L298.2,455.2 L301.7,458.8 L298.2,462.4 Z"/>
<path d="M299.7,458.8 L303.2,455.2 L306.7,458.8 L303.2,462.4 Z"/>
<path d="M304.8,458.8 L308.3,455.2 L311.8,458.8 L308.3,462.4 Z"/>
<path d="M309.8,458.8 L313.3,455.2 L316.8,458.8 L313.3,462.4 Z"/>
<path d="M314.8,458.8 L318.3,455.2 L321.8,458.8 L318.3,462.4 Z"/>
<path d="M319.8,458.8 L323.3,455.2 L326.8,458.8 L323.3,462.4 Z"/>
<path d="M324.8,458.8 L328.3,455.2 L331.8,458.8 L328.3,462.4 Z"/>
<path d="M329.9,458.8 L333.4,455.2 L336.9,458.8 L333.4,462.4 Z"/>
<path d="M334.9,458.8 L338.4,455.2 L341.9,458.8 L338.4,462.4 Z"/>
<path d="M339.9,458.8 L343.4,455.2 L346.9,458.8 L343.4,462.4 Z"/>
<path d="M344.9,458.8 L348.4,455.2 L351.9,458.8 L348.4,462.4 Z"/>
<path d="M349.9,458.8 L353.4,455.2 L356.9,458.8 L353.4,462.4 Z"/>
<path d="M355.0,458.8 L358.5,455.2 L362.0,458.8 L358.5,462.4 Z"/>
<path d="M360.0,458.8 L363.5,455.2 L367.0,458.8 L363.5,462.4 Z"/>
<path d="M365.0,458.8 L368.5,455.2 L372.0,458.8 L368.5,462.4 Z"/>
</g>
</svg></body></html>
